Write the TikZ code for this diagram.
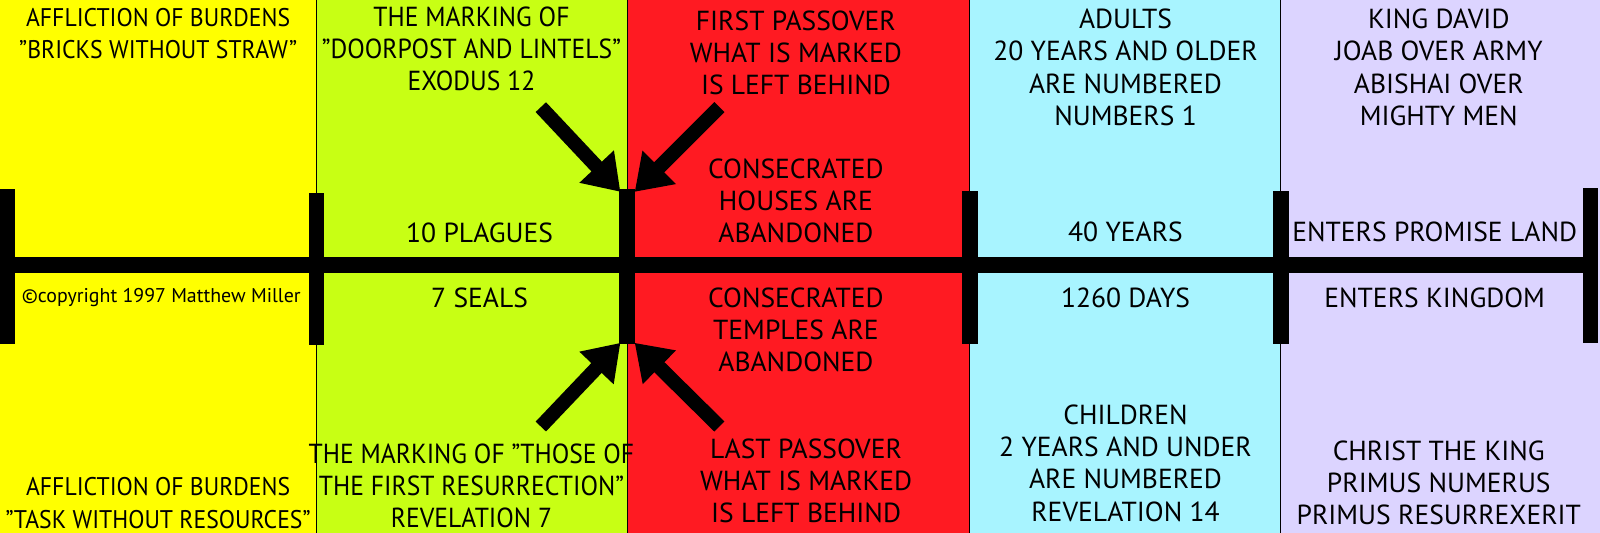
\documentclass[tikz,border=0pt]{standalone}
\usepackage{fontspec}
\setmainfont{PT Sans}
\usetikzlibrary{arrows.meta}
\definecolor{cy}{HTML}{FFFF00}
\definecolor{cg}{HTML}{C8FF14}
\definecolor{cr}{HTML}{FF1A22}
\definecolor{cc}{HTML}{A8F4FF}
\definecolor{cl}{HTML}{DCD4FF}
\newcommand\qq{\char34\relax}
\begin{document}
\begin{tikzpicture}[x=1pt,y=-1pt,
  txt/.style={align=center,font=\fontsize{27}{31.5}\selectfont,inner sep=0pt},
  ytxt/.style={txt,font=\fontsize{25}{31.5}\selectfont,xscale=0.93,transform shape},
  arr/.style={line width=14pt,-{Triangle[length=34pt,width=44pt]}}]
\useasboundingbox (0,0) rectangle (1568,522.3);
\fill[cy] (0,0) rectangle (310,523);
\fill[cg] (310,0) rectangle (615,523);
\fill[cr] (615,0) rectangle (950,523);
\fill[cc] (950,0) rectangle (1255,523);
\fill[cl] (1255,0) rectangle (1568,523);
\draw[line width=1pt] (310,0)--(310,523);
\draw[line width=1pt] (615,0)--(615,523);
\draw[line width=1pt] (950,0)--(950,523);
\draw[line width=1pt] (1255,0)--(1255,523);
% timeline
\fill[black] (0,252) rectangle (1558,268);
\foreach \x/\a/\b in {0/185/337,303/189/338,607/185/337,943/187/337,1248/187/337,1551/184/336}
  \fill[black] (\x,\a) rectangle ++(15,\b-\a);
% arrows
\coordinate (t1) at (608,188); \coordinate (t2) at (622,188);
\coordinate (t3) at (608,336); \coordinate (t4) at (622,336);
\draw[arr] (530,105) -- (t1);
\draw[arr] (705,105) -- (t2);
\draw[arr] (530,418) -- (t3);
\draw[arr] (705,418) -- (t4);
% texts
\node[ytxt] at (155,33) {AFFLICTION OF BURDENS\\\qq BRICKS WITHOUT STRAW\qq};
\node[ytxt] at (155,493) {AFFLICTION OF BURDENS\\\qq TASK WITHOUT RESOURCES\qq};
\node[txt,font=\fontsize{19.5}{22}\selectfont] at (158,292) {©copyright 1997 Matthew Miller};
\node[txt,xscale=0.93,transform shape] at (462,48) {THE MARKING OF\\\qq DOORPOST AND LINTELS\qq\\EXODUS 12};
\node[txt] at (470,228) {10 PLAGUES};
\node[txt] at (470,292) {7 SEALS};
\node[txt,xscale=0.93,transform shape] at (462,476) {THE MARKING OF \qq THOSE OF\\THE FIRST RESURRECTION\qq\\REVELATION 7};
\node[txt] at (780,52) {FIRST PASSOVER\\WHAT IS MARKED\\IS LEFT BEHIND};
\node[txt] at (780,197) {CONSECRATED\\HOUSES ARE\\ABANDONED};
\node[txt] at (780,323) {CONSECRATED\\TEMPLES ARE\\ABANDONED};
\node[txt] at (790,471) {LAST PASSOVER\\WHAT IS MARKED\\IS LEFT BEHIND};
\node[txt] at (1103,66) {ADULTS\\20 YEARS AND OLDER\\ARE NUMBERED\\NUMBERS 1};
\node[txt] at (1103,227) {40 YEARS};
\node[txt] at (1103,292) {1260 DAYS};
\node[txt] at (1103,454) {CHILDREN\\2 YEARS AND UNDER\\ARE NUMBERED\\REVELATION 14};
\node[txt] at (1410,66) {KING DAVID\\JOAB OVER ARMY\\ABISHAI OVER\\MIGHTY MEN};
\node[txt] at (1406,227) {ENTERS PROMISE LAND};
\node[txt] at (1406,292) {ENTERS KINGDOM};
\node[txt] at (1410,473) {CHRIST THE KING\\PRIMUS NUMERUS\\PRIMUS RESURREXERIT};
\end{tikzpicture}
\end{document}
